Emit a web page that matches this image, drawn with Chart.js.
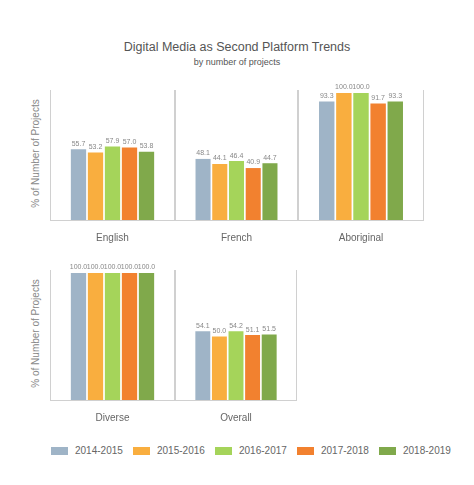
<!DOCTYPE html>
<html>
<head>
<meta charset="utf-8">
<script src="https://cdn.jsdelivr.net/npm/chart.js@4"></script>
<style>
  body { margin: 0; width: 474px; height: 485px; background: #fff; font-family: "Liberation Sans", Arial, sans-serif; position: relative; overflow: hidden; }
  .panel { position: absolute; }
  .title { position: absolute; left: 0; width: 474px; text-align: center; color: #555; }
  .ytitle { position: absolute; width: 130px; text-align: center; font-size: 10px; color: #888; transform: rotate(-90deg); }
  #legend { position: absolute; top: 445px; left: 51px; font-size: 10px; color: #666; }
  .item { position: absolute; white-space: nowrap; }
  .item span { display: inline-block; width: 17px; height: 8px; margin-right: 7px; vertical-align: -1px; }
</style>
</head>
<body>
<div class="title" style="top:40px;font-size:12.5px;">Digital Media as Second Platform Trends</div>
<div class="title" style="top:57px;font-size:9px;">by number of projects</div>
<div class="ytitle" style="left:-30px;top:148px;">% of Number of Projects</div>
<div class="ytitle" style="left:-30px;top:328px;">% of Number of Projects</div>
<div id="legend"></div>
<script>
const seasons = ['2014-2015', '2015-2016', '2016-2017', '2017-2018', '2018-2019'];
const colors = ['#9fb4c7', '#f9ae3f', '#a5d45a', '#f2812f', '#80a94b'];
const groups = ['English', 'French', 'Aboriginal', 'Diverse', 'Overall'];
const values = {
    English: [55.7, 53.2, 57.9, 57.0, 53.8],
    French: [48.1, 44.1, 46.4, 40.9, 44.7],
    Aboriginal: [93.3, 100.0, 100.0, 91.7, 93.3],
    Diverse: [100.0, 100.0, 100.0, 100.0, 100.0],
    Overall: [54.1, 50.0, 54.2, 51.1, 51.5]
};

// panel placement: [left, top, width]
const spots = [[50, 80, 125], [175, 80, 123], [298, 80, 126], [50, 260, 125], [175, 260, 122]];

const sidesAndLabels = {
    id: 'sidesAndLabels',
    afterDatasetsDraw(chart) {
        const c = chart.ctx, a = chart.chartArea;
        c.save();
        c.strokeStyle = '#d0d0d0';
        c.lineWidth = 1;
        c.beginPath();
        c.moveTo(a.left + 0.5, a.top - 3); c.lineTo(a.left + 0.5, a.bottom);
        c.moveTo(a.right - 0.5, a.top - 3); c.lineTo(a.right - 0.5, a.bottom);
        c.stroke();
        c.fillStyle = '#888';
        c.font = '7px "Liberation Sans", Arial, sans-serif';
        c.textAlign = 'center';
        c.textBaseline = 'bottom';
        chart.data.datasets.forEach((ds, i) => {
            chart.getDatasetMeta(i).data.forEach((bar, j) => {
                c.fillText(ds.data[j].toFixed(1), bar.x, bar.y - 2);
            });
        });
        c.restore();
    }
};

groups.forEach((g, k) => {
    const [left, top, width] = spots[k];
    const wrap = document.createElement('div');
    wrap.className = 'panel';
    wrap.style.cssText = `left:${left}px;top:${top}px;width:${width}px;height:170px;`;
    const cv = document.createElement('canvas');
    wrap.appendChild(cv);
    document.body.appendChild(wrap);
    new Chart(cv, {
        type: 'bar',
        data: {
            labels: [g],
            datasets: seasons.map((s, i) => ({
                label: s,
                data: [values[g][i]],
                backgroundColor: colors[i],
                barPercentage: 0.9,
                categoryPercentage: 0.68
            }))
        },
        options: {
            responsive: true,
            maintainAspectRatio: false,
            animation: false,
            layout: { padding: { top: 13, left: 0, right: 0, bottom: 0 } },
            plugins: { legend: { display: false }, tooltip: { enabled: false } },
            scales: {
                x: {
                    grid: { display: false },
                    border: { display: true, color: '#d0d0d0' },
                    ticks: { color: '#666', font: { size: 10 }, padding: 4 },
                    afterFit(s) { s.height = 30; }
                },
                y: { display: false, min: 0, max: 100 }
            }
        },
        plugins: [sidesAndLabels]
    });
});

const legend = document.getElementById('legend');
seasons.forEach((s, i) => {
    const it = document.createElement('div');
    it.className = 'item';
    it.style.left = (i * 82) + 'px';
    it.innerHTML = `<span style="background:${colors[i]}"></span>${s}`;
    legend.appendChild(it);
});
</script>
</body>
</html>
